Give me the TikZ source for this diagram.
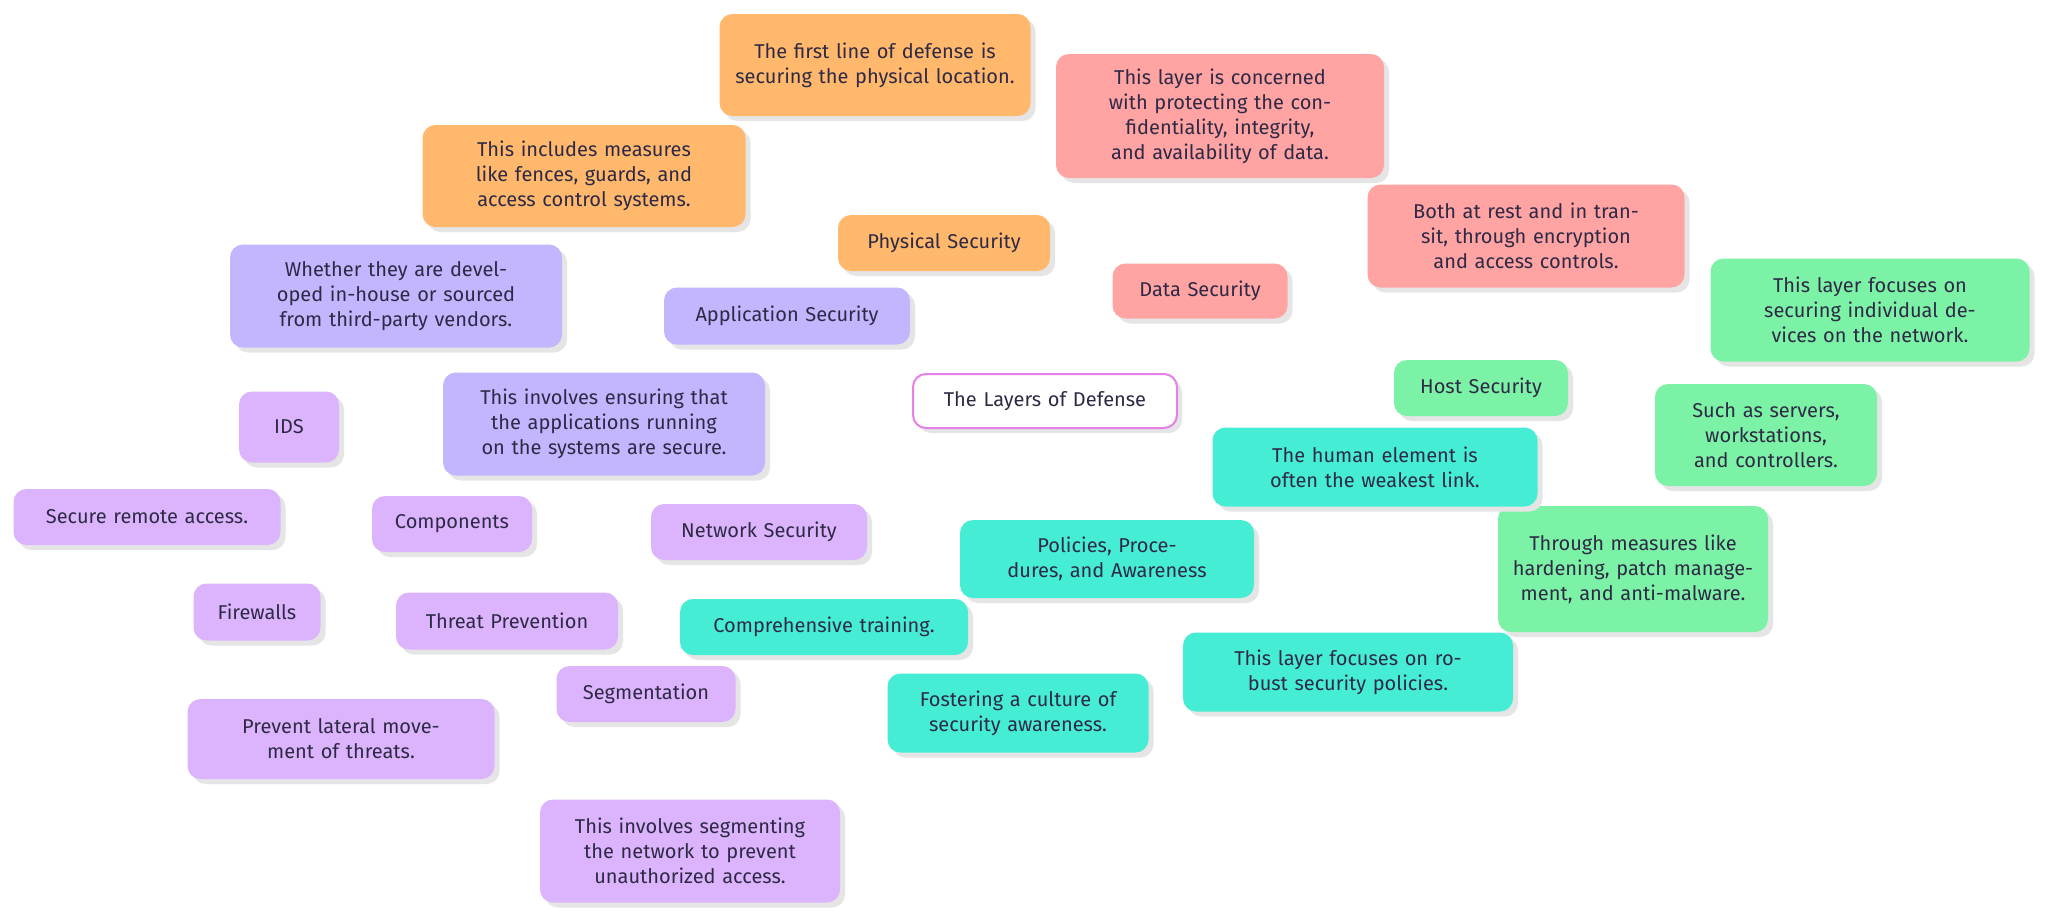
\documentclass[tikz,border=0pt]{standalone}
\usepackage{fontspec}
\setmainfont{Fira Sans}
\usetikzlibrary{shadows,backgrounds}
\definecolor{edge}{HTML}{2A2640}
\definecolor{cPhys}{HTML}{FFB86C}
\definecolor{cData}{HTML}{FFA3A3}
\definecolor{cHost}{HTML}{7CF2A6}
\definecolor{cPol}{HTML}{46EDD5}
\definecolor{cApp}{HTML}{C3B5FE}
\definecolor{cNet}{HTML}{DCB4FD}
\definecolor{txt}{HTML}{2E2A45}
\tikzset{
 b/.style n args={3}{rounded corners=13pt, inner sep=0pt, align=center, fill=#1,
   minimum width=#2, minimum height=#3, text width=#2-28, text=txt,
   font=\fontsize{20}{25}\selectfont,
   drop shadow={shadow xshift=5pt,shadow yshift=-5pt,fill=black!10,opacity=1}},
 e1/.style={draw=edge,line width=11pt},
 e2/.style={draw=edge,line width=7pt},
}
\begin{document}
\begin{tikzpicture}[x=1pt,y=-1pt]
\path[use as bounding box, fill=white] (0,0) rectangle (2048,919);
\node[b={white}{264}{54}, draw=violet!40!magenta!50, line width=2pt] (root) at (1045,401) {The Layers of Defense};
\node[b={cPhys}{212}{56}] (phys) at (944,243) {Physical Security};
\node[b={cPhys}{311}{102}] (p1) at (875,65) {The first line of defense is securing the physical location.};
\node[b={cPhys}{323}{102}] (p2) at (584,176) {This includes measures like fences, guards, and access control systems.};
\node[b={cData}{175}{55}] (data) at (1200,291) {Data Security};
\node[b={cData}{328}{124}] (d1) at (1220,116) {This layer is concerned with protecting the confidentiality, integrity, and availability of data.};
\node[b={cData}{317}{103}] (d2) at (1526,236) {Both at rest and in transit, through encryption and access controls.};
\node[b={cHost}{174}{56}] (host) at (1481,388) {Host Security};
\node[b={cHost}{319}{103}] (h1) at (1870,310) {This layer focuses on securing individual devices on the network.};
\node[b={cHost}{222}{102}] (h2) at (1766,435) {Such as servers, workstations, and controllers.};
\node[b={cHost}{270}{126}] (h3) at (1633,569) {Through measures like hardening, patch management, and anti-malware.};
\node[b={cPol}{294}{78}] (pol) at (1107,559) {Policies, Procedures, and Awareness};
\node[b={cPol}{325}{79}] (o1) at (1375,467) {The human element is often the weakest link.};
\node[b={cPol}{330}{79}] (o2) at (1348,672) {This layer focuses on robust security policies.};
\node[b={cPol}{261}{79}] (o3) at (1018,713) {Fostering a culture of security awareness.};
\node[b={cPol}{288}{56}] (o4) at (824,627) {Comprehensive training.};
\node[b={cApp}{246}{57}] (app) at (787,316) {Application Security};
\node[b={cApp}{332}{103}] (a1) at (396,296) {Whether they are developed in-house or sourced from third-party vendors.};
\node[b={cApp}{322}{103}] (a2) at (604,424) {This involves ensuring that the applications running on the systems are secure.};
\node[b={cNet}{216}{56}] (net) at (759,532) {Network Security};
\node[b={cNet}{160}{56}] (comp) at (452,524) {Components};
\node[b={cNet}{100}{71}] (ids) at (289,427) {IDS};
\node[b={cNet}{267}{56}] (sra) at (147,517) {Secure remote access.};
\node[b={cNet}{127}{57}] (fw) at (257,612) {Firewalls};
\node[b={cNet}{222}{57}] (tp) at (507,621) {Threat Prevention};
\node[b={cNet}{307}{80}] (tp1) at (341,739) {Prevent lateral movement of threats.};
\node[b={cNet}{179}{56}] (seg) at (646,694) {Segmentation};
\node[b={cNet}{300}{103}] (seg1) at (690,851) {This involves segmenting the network to prevent unauthorized access.};
\begin{scope}[on background layer]
\draw[e1] (root.center) -- (phys.center);
\draw[e1] (root.center) -- (data.center);
\draw[e1] (root.center) -- (host.center);
\draw[e1] (root.center) -- (pol.center);
\draw[e1] (root.center) -- (app.center);
\draw[e1] (root.center) -- (net.center);
\draw[e2] (phys.center) -- (p1.center);
\draw[e2] (phys.center) -- (p2.center);
\draw[e2] (data.center) -- (d1.center);
\draw[e2] (data.center) -- (d2.center);
\draw[e2] (host.center) -- (h1.center);
\draw[e2] (host.center) -- (h2.center);
\draw[e2] (host.center) -- (h3.center);
\draw[e2] (pol.center) -- (o1.center);
\draw[e2] (pol.center) -- (o2.center);
\draw[e2] (pol.center) -- (o3.center);
\draw[e2] (pol.center) -- (o4.center);
\draw[e2] (app.center) -- (a1.center);
\draw[e2] (app.center) -- (a2.center);
\draw[e2] (net.center) -- (comp.center);
\draw[e2] (net.center) -- (tp.center);
\draw[e2] (net.center) -- (seg.center);
\draw[e2] (comp.center) -- (ids.center);
\draw[e2] (comp.center) -- (sra.center);
\draw[e2] (comp.center) -- (fw.center);
\draw[e2] (tp.center) -- (tp1.center);
\draw[e2] (seg.center) -- (seg1.center);
\end{scope}
\end{tikzpicture}
\end{document}
